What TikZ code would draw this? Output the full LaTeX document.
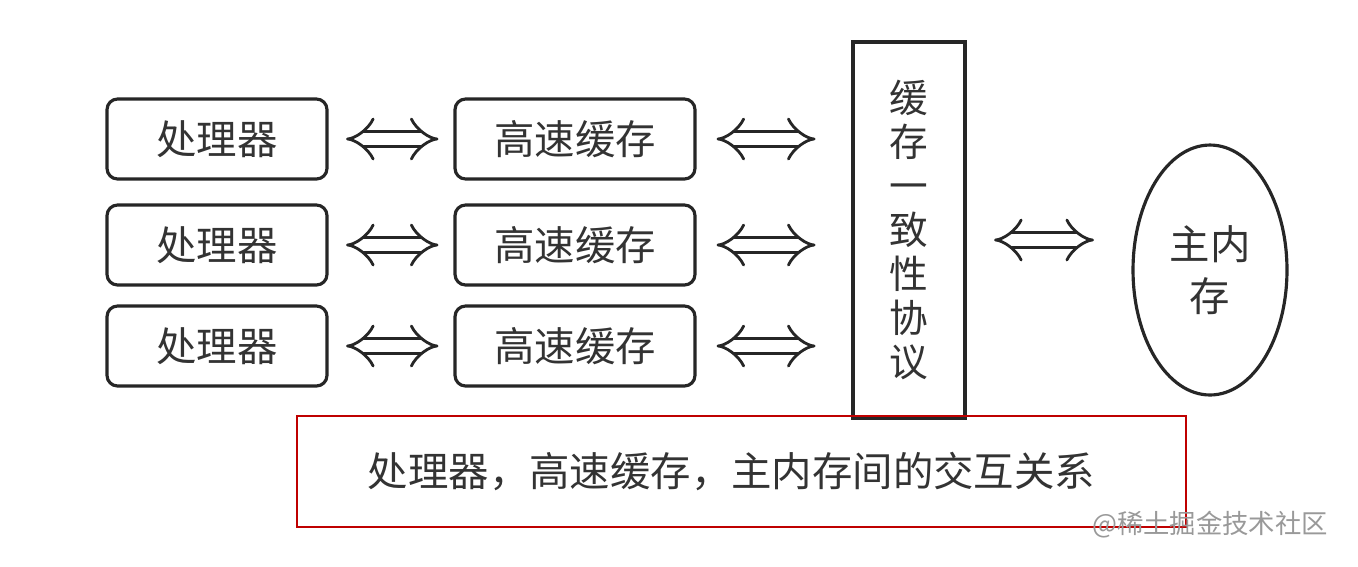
\documentclass[tikz,border=0pt]{standalone}
\usepackage{fontspec}
\setmainfont{Noto Sans CJK SC}
\usetikzlibrary{arrows.meta,shapes.geometric}
\begin{document}
\begin{tikzpicture}[x=0.02cm,y=-0.02cm,
  box/.style={draw=black!85,line width=1.8pt,rounded corners=6pt,minimum width=4.4cm,minimum height=1.6cm,font=\fontsize{23}{26}\selectfont,text=black!80},
  cbox/.style={box,minimum width=4.8cm},
  dar/.style={double=white,double distance=7pt,line width=1.6pt,draw=black!85,{Implies[length=10pt,width=26pt]}-{Implies[length=10pt,width=26pt]}}]
\useasboundingbox (0,0) rectangle (1358,566);
\fill[white] (0,0) rectangle (1358,566);
\foreach \i/\y in {1/139,2/245,3/346}{
  \node[box] (p\i) at (217,\y) {处理器};
  \node[cbox] (c\i) at (575,\y) {高速缓存};
  \coordinate (q\i) at (853,\y);
  \draw[dar] ([xshift=0.35cm]p\i.east) -- ([xshift=-0.3cm]c\i.west);
  \draw[dar] ([xshift=0.4cm]c\i.east) -- ([xshift=-0.75cm]q\i);
}
\node[draw=black!85,line width=1.8pt,minimum width=2.24cm,minimum height=7.52cm,align=center,font=\fontsize{22}{25}\selectfont,text=black!80] (proto) at (909,230) {缓\\[0pt]存\\[0pt]一\\[0pt]致\\[0pt]性\\[0pt]协\\[0pt]议};
\node[ellipse,draw=black!85,line width=1.8pt,minimum width=3.08cm,minimum height=5cm,align=center,font=\fontsize{23}{30}\selectfont,text=black!80] (mem) at (1210,270) {主内\\存};
\draw[dar] ([xshift=0.55cm,yshift=-0.2cm]proto.east) -- ([xshift=-0.75cm,yshift=-0.2cm]proto.east -| mem.west);
\node[draw=red!75!black,line width=1.4pt,minimum width=17.78cm,minimum height=2.22cm,font=\fontsize{23}{26}\selectfont,text=black!80] (cap) at (741.5,471.5) {\hspace*{-0.4cm}处理器，高速缓存，主内存间的交互关系};
\node[text=black!40,font=\fontsize{15}{18}\selectfont] (wm) at (1210,525) {@稀土掘金技术社区};
\end{tikzpicture}
\end{document}
